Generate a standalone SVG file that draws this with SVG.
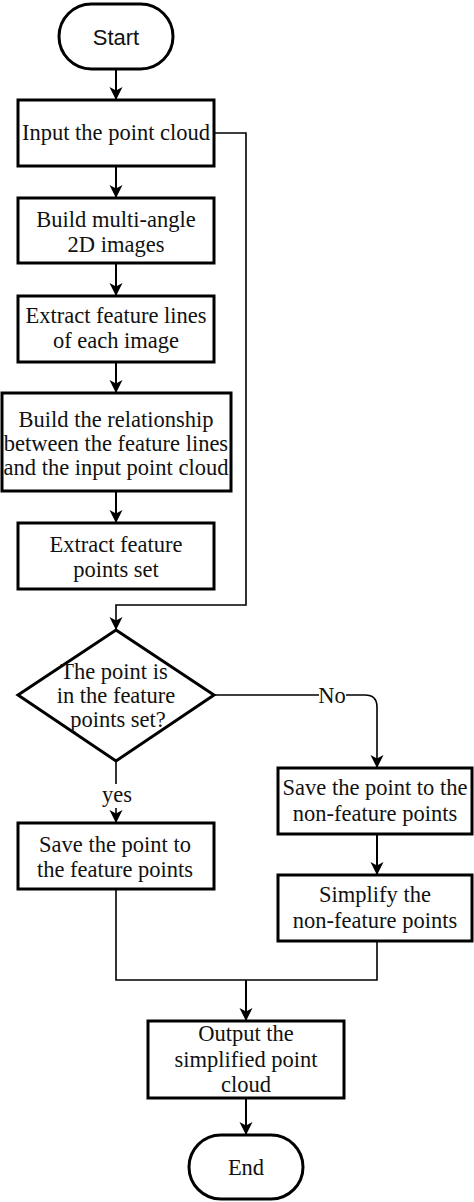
<svg xmlns="http://www.w3.org/2000/svg" width="474" height="1202" viewBox="0 0 474 1202">
<style>
.box{fill:#fff;stroke:#000;stroke-width:3}
.t{font-family:"Liberation Serif","Times New Roman",serif;font-size:22.5px;fill:#111;text-anchor:middle}
.s{font-family:"Liberation Sans",Arial,sans-serif;font-size:22px;fill:#111;text-anchor:middle}
.c{fill:none;stroke:#000;stroke-width:2}
.c2{fill:none;stroke:#000;stroke-width:1.6}
</style>
<defs>
<marker id="ah" markerUnits="userSpaceOnUse" markerWidth="14" markerHeight="14" refX="13" refY="6.5" orient="auto">
<path d="M0,0 L13,6.5 L0,13 L3.5,6.5 Z" fill="#000"/>
</marker>
</defs>
<rect width="474" height="1202" fill="#fff"/>
<g id="connectors">
<path class="c" d="M116,69 V100" marker-end="url(#ah)"/>
<path class="c" d="M116,166 V198" marker-end="url(#ah)"/>
<path class="c" d="M116,263 V296" marker-end="url(#ah)"/>
<path class="c" d="M116,362 V393" marker-end="url(#ah)"/>
<path class="c" d="M116,491 V523" marker-end="url(#ah)"/>
<path class="c2" d="M214,133 H246 V605 H116 V630" marker-end="url(#ah)"/>
<path class="c2" d="M214,695 H365 Q377,695 377,707 V768" marker-end="url(#ah)"/>
<path class="c2" d="M116,761 V823" marker-end="url(#ah)"/>
<path class="c" d="M377,834 V875" marker-end="url(#ah)"/>
<path class="c2" d="M116,889 V980 H377 V941"/>
<path class="c" d="M246,980 V1021" marker-end="url(#ah)"/>
<path class="c" d="M246,1098 V1135" marker-end="url(#ah)"/>
<rect x="319" y="686" width="27" height="20" fill="#fff"/>
<text class="t" x="332" y="703">No</text>
<rect x="100" y="784" width="33" height="24" fill="#fff"/>
<text class="t" x="117" y="802">yes</text>
</g>
<g id="start">
<rect class="box" x="59" y="4" width="114" height="65" rx="32.5"/>
<text class="s" x="116" y="45">Start</text>
</g>
<g id="input">
<rect class="box" x="18" y="100" width="196" height="66"/>
<text class="t" x="116" y="140">Input the point cloud</text>
</g>
<g id="build">
<rect class="box" x="18" y="198" width="196" height="65"/>
<text class="t" x="116" y="227">Build multi-angle</text>
<text class="t" x="116" y="252">2D images</text>
</g>
<g id="extract-lines">
<rect class="box" x="18" y="296" width="196" height="66"/>
<text class="t" x="116" y="323">Extract feature lines</text>
<text class="t" x="116" y="348">of each image</text>
</g>
<g id="relationship">
<rect class="box" x="2" y="393" width="229" height="98"/>
<text class="t" x="116" y="427">Build the relationship</text>
<text class="t" x="116" y="451">between the feature lines</text>
<text class="t" x="116" y="475">and the input point cloud</text>
</g>
<g id="extract-points">
<rect class="box" x="18" y="523" width="196" height="66"/>
<text class="t" x="116" y="552">Extract feature</text>
<text class="t" x="116" y="577">points set</text>
</g>
<g id="decision">
<polygon class="box" points="116,630 214,695 116,761 18,695"/>
<text class="t" x="114" y="679">The point is</text>
<text class="t" x="116" y="703">in the feature</text>
<text class="t" x="118" y="727">points set?</text>
</g>
<g id="save-nonfeature">
<rect class="box" x="278" y="768" width="194" height="66"/>
<text class="t" x="375" y="795">Save the point to the</text>
<text class="t" x="375" y="821">non-feature points</text>
</g>
<g id="save-feature">
<rect class="box" x="18" y="823" width="196" height="66"/>
<text class="t" x="115" y="852">Save the point to</text>
<text class="t" x="115" y="877">the feature points</text>
</g>
<g id="simplify">
<rect class="box" x="278" y="875" width="194" height="66"/>
<text class="t" x="375" y="902">Simplify the</text>
<text class="t" x="375" y="928">non-feature points</text>
</g>
<g id="output">
<rect class="box" x="148" y="1021" width="196" height="77"/>
<text class="t" x="246" y="1041">Output the</text>
<text class="t" x="246" y="1067">simplified point</text>
<text class="t" x="246" y="1092">cloud</text>
</g>
<g id="end">
<rect class="box" x="189" y="1135" width="114" height="64" rx="32"/>
<text class="t" x="246" y="1175">End</text>
</g>
</svg>
